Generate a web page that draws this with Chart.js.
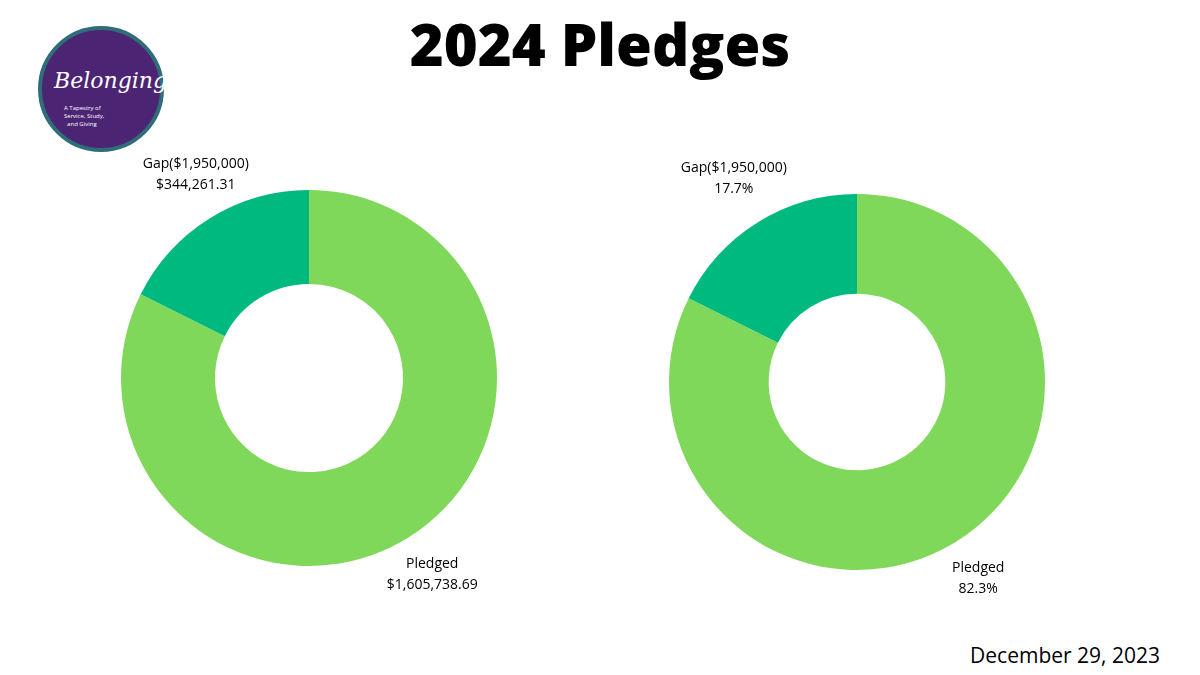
<!DOCTYPE html>
<html>
<head>
<meta charset="utf-8">
<script src="https://cdn.jsdelivr.net/npm/chart.js@4"></script>
<style>
  body { margin: 0; width: 1200px; height: 675px; background: #fff; position: relative; overflow: hidden; font-family: "Open Sans", sans-serif; }
  h1 { position: absolute; top: 4px; left: 0; width: 1200px; margin: 0; text-align: center; font-family: "Open Sans", sans-serif; font-weight: 800; font-size: 58px; color: #000; }
  .logo { position: absolute; left: 38px; top: 26px; width: 118px; height: 118px; border-radius: 50%; background: #4b2573; border: 4px solid #2f6d78; box-sizing: content-box; color: #fff; }
  .logo .b { position: absolute; left: 12px; top: 38px; font-family: "DejaVu Serif", serif; font-style: italic; font-size: 22px; }
  .logo .s { position: absolute; left: 22px; top: 74px; font-size: 6px; line-height: 8px; }
  .date { position: absolute; right: 40px; top: 641px; font-size: 21px; color: #000; font-family: "Open Sans", sans-serif; }
  canvas { position: absolute; }
</style>
</head>
<body>
<h1>2024 Pledges</h1>
<div class="logo"><div class="b">Belonging</div><div class="s">A Tapestry of<br>Service, Study,<br>&nbsp;&nbsp;and Giving</div></div>
<div class="date">December 29, 2023</div>
<div style="position:absolute;left:29px;top:98px;width:560px;height:560px"><canvas id="c1"></canvas></div>
<div style="position:absolute;left:577px;top:102px;width:560px;height:560px"><canvas id="c2"></canvas></div>
<script>
// Data
const categories = ['Pledged', 'Gap($1,950,000)'];
const amounts = [1605738.69, 344261.31];
const amountLabels = ['$1,605,738.69', '$344,261.31'];
const percentLabels = ['82.3%', '17.7%'];
const colors = ['#80d85a', '#00b97e'];

// Draws category + value label outside each slice
const outsideLabels = {
    id: 'outsideLabels',
    afterDraw(chart, args, opts) {
        const ctx = chart.ctx;
        const meta = chart.getDatasetMeta(0);
        ctx.save();
        ctx.font = '14px "Open Sans", sans-serif';
        ctx.fillStyle = '#000';
        ctx.textAlign = 'center';
        ctx.textBaseline = 'middle';
        meta.data.forEach((arc, i) => {
            const mid = (arc.startAngle + arc.endAngle) / 2;
            const r = arc.outerRadius + 46;
            const x = arc.x + r * Math.cos(mid) + opts.dx[i];
            const y = arc.y + r * Math.sin(mid) + opts.dy[i];
            ctx.fillText(categories[i], x, y - 10);
            ctx.fillText(opts.values[i], x, y + 11);
        });
        ctx.restore();
    }
};

function makeChart(id, values, cutout, dx) {
    new Chart(document.getElementById(id), {
        type: 'doughnut',
        data: {
            labels: categories,
            datasets: [{ data: amounts, backgroundColor: colors, borderWidth: 0 }]
        },
        options: {
            responsive: true,
            maintainAspectRatio: false,
            animation: false,
            cutout: cutout,
            layout: { padding: 92 },
            plugins: {
                legend: { display: false },
                tooltip: { enabled: false },
                outsideLabels: { values: values, dx: dx, dy: [-3, -5] }
            }
        },
        plugins: [outsideLabels]
    });
}

makeChart('c1', amountLabels, '50%', [0, 10]);
makeChart('c2', percentLabels, '47%', [-2, 0]);
</script>
</body>
</html>
